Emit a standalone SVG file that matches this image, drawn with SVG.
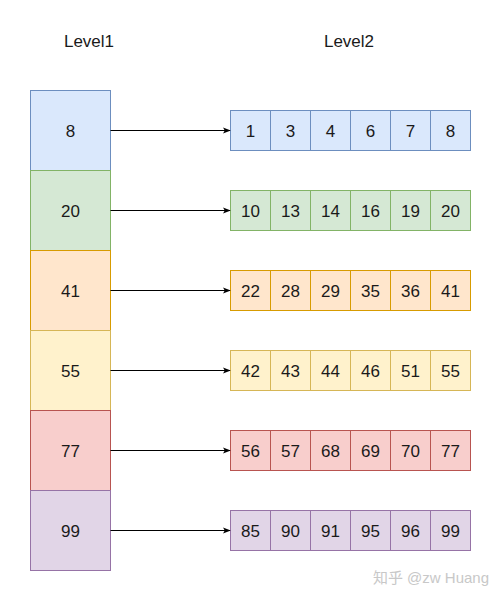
<svg xmlns="http://www.w3.org/2000/svg" width="501" height="601" viewBox="0 0 501 601">
<defs>
<style>
text{font-family:"Liberation Sans",Arial,sans-serif;font-size:17px;fill:#1a1a1a;text-anchor:middle;dominant-baseline:central}
.b{fill:#dae8fc;stroke:#6c8ebf}
.g{fill:#d5e8d4;stroke:#82b366}
.o{fill:#ffe6cc;stroke:#d79b00}
.y{fill:#fff2cc;stroke:#d6b656}
.r{fill:#f8cecc;stroke:#b85450}
.p{fill:#e1d5e7;stroke:#9673a6}
.c{stroke:#000;stroke-width:1;fill:none}
</style>
<marker id="ah" viewBox="0 0 10 10" refX="9" refY="5" markerWidth="8" markerHeight="8" markerUnits="userSpaceOnUse" orient="auto">
<path d="M0,1 L10,5 L0,9 L2.5,5 Z" fill="#000"/>
</marker>
</defs>
<rect width="501" height="601" fill="#fff"/>
<text x="89" y="41">Level1</text>
<text x="349" y="41">Level2</text>
<g id="level1">
<g id="l1-8"><rect class="b" x="30.5" y="90.5" width="80" height="80"/><text x="70.5" y="131">8</text></g>
<g id="l1-20"><rect class="g" x="30.5" y="170.5" width="80" height="80"/><text x="70.5" y="211">20</text></g>
<g id="l1-41"><rect class="o" x="30.5" y="250.5" width="80" height="80"/><text x="70.5" y="291">41</text></g>
<g id="l1-55"><rect class="y" x="30.5" y="330.5" width="80" height="80"/><text x="70.5" y="371">55</text></g>
<g id="l1-77"><rect class="r" x="30.5" y="410.5" width="80" height="80"/><text x="70.5" y="451">77</text></g>
<g id="l1-99"><rect class="p" x="30.5" y="490.5" width="80" height="80"/><text x="70.5" y="531">99</text></g>
</g>
<g id="row1">
<rect class="b" x="230.5" y="110.5" width="40" height="40"/><text x="250.5" y="131">1</text>
<rect class="b" x="270.5" y="110.5" width="40" height="40"/><text x="290.5" y="131">3</text>
<rect class="b" x="310.5" y="110.5" width="40" height="40"/><text x="330.5" y="131">4</text>
<rect class="b" x="350.5" y="110.5" width="40" height="40"/><text x="370.5" y="131">6</text>
<rect class="b" x="390.5" y="110.5" width="40" height="40"/><text x="410.5" y="131">7</text>
<rect class="b" x="430.5" y="110.5" width="40" height="40"/><text x="450.5" y="131">8</text>
</g>
<g id="row2">
<rect class="g" x="230.5" y="190.5" width="40" height="40"/><text x="250.5" y="211">10</text>
<rect class="g" x="270.5" y="190.5" width="40" height="40"/><text x="290.5" y="211">13</text>
<rect class="g" x="310.5" y="190.5" width="40" height="40"/><text x="330.5" y="211">14</text>
<rect class="g" x="350.5" y="190.5" width="40" height="40"/><text x="370.5" y="211">16</text>
<rect class="g" x="390.5" y="190.5" width="40" height="40"/><text x="410.5" y="211">19</text>
<rect class="g" x="430.5" y="190.5" width="40" height="40"/><text x="450.5" y="211">20</text>
</g>
<g id="row3">
<rect class="o" x="230.5" y="270.5" width="40" height="40"/><text x="250.5" y="291">22</text>
<rect class="o" x="270.5" y="270.5" width="40" height="40"/><text x="290.5" y="291">28</text>
<rect class="o" x="310.5" y="270.5" width="40" height="40"/><text x="330.5" y="291">29</text>
<rect class="o" x="350.5" y="270.5" width="40" height="40"/><text x="370.5" y="291">35</text>
<rect class="o" x="390.5" y="270.5" width="40" height="40"/><text x="410.5" y="291">36</text>
<rect class="o" x="430.5" y="270.5" width="40" height="40"/><text x="450.5" y="291">41</text>
</g>
<g id="row4">
<rect class="y" x="230.5" y="350.5" width="40" height="40"/><text x="250.5" y="371">42</text>
<rect class="y" x="270.5" y="350.5" width="40" height="40"/><text x="290.5" y="371">43</text>
<rect class="y" x="310.5" y="350.5" width="40" height="40"/><text x="330.5" y="371">44</text>
<rect class="y" x="350.5" y="350.5" width="40" height="40"/><text x="370.5" y="371">46</text>
<rect class="y" x="390.5" y="350.5" width="40" height="40"/><text x="410.5" y="371">51</text>
<rect class="y" x="430.5" y="350.5" width="40" height="40"/><text x="450.5" y="371">55</text>
</g>
<g id="row5">
<rect class="r" x="230.5" y="430.5" width="40" height="40"/><text x="250.5" y="451">56</text>
<rect class="r" x="270.5" y="430.5" width="40" height="40"/><text x="290.5" y="451">57</text>
<rect class="r" x="310.5" y="430.5" width="40" height="40"/><text x="330.5" y="451">68</text>
<rect class="r" x="350.5" y="430.5" width="40" height="40"/><text x="370.5" y="451">69</text>
<rect class="r" x="390.5" y="430.5" width="40" height="40"/><text x="410.5" y="451">70</text>
<rect class="r" x="430.5" y="430.5" width="40" height="40"/><text x="450.5" y="451">77</text>
</g>
<g id="row6">
<rect class="p" x="230.5" y="510.5" width="40" height="40"/><text x="250.5" y="531">85</text>
<rect class="p" x="270.5" y="510.5" width="40" height="40"/><text x="290.5" y="531">90</text>
<rect class="p" x="310.5" y="510.5" width="40" height="40"/><text x="330.5" y="531">91</text>
<rect class="p" x="350.5" y="510.5" width="40" height="40"/><text x="370.5" y="531">95</text>
<rect class="p" x="390.5" y="510.5" width="40" height="40"/><text x="410.5" y="531">96</text>
<rect class="p" x="430.5" y="510.5" width="40" height="40"/><text x="450.5" y="531">99</text>
</g>
<g id="connectors">
<line class="c" x1="110.5" y1="130.5" x2="230" y2="130.5" marker-end="url(#ah)"/>
<line class="c" x1="110.5" y1="210.5" x2="230" y2="210.5" marker-end="url(#ah)"/>
<line class="c" x1="110.5" y1="290.5" x2="230" y2="290.5" marker-end="url(#ah)"/>
<line class="c" x1="110.5" y1="370.5" x2="230" y2="370.5" marker-end="url(#ah)"/>
<line class="c" x1="110.5" y1="450.5" x2="230" y2="450.5" marker-end="url(#ah)"/>
<line class="c" x1="110.5" y1="530.5" x2="230" y2="530.5" marker-end="url(#ah)"/>
</g>
<text x="431" y="577" style="font-family:'Liberation Sans','Noto Sans CJK SC',sans-serif;font-size:15px;fill:#c8c8c8">知乎 @zw Huang</text>
</svg>
